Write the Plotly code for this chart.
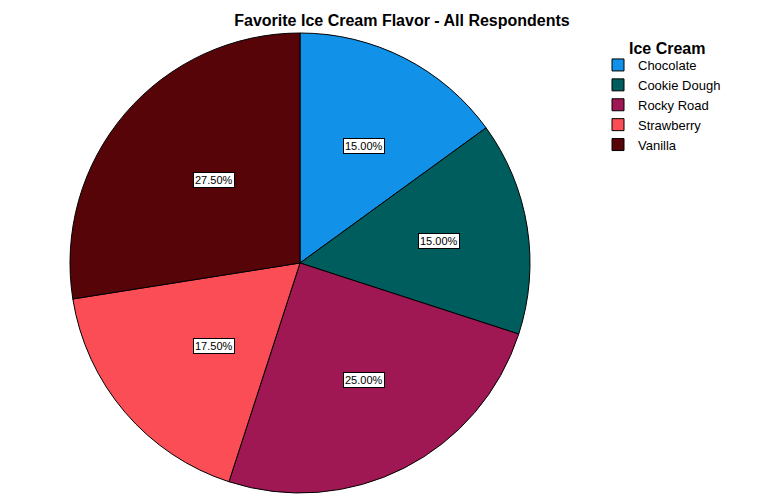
import numpy as np
import plotly.graph_objects as go

flavors = ['Chocolate', 'Cookie Dough', 'Rocky Road', 'Strawberry', 'Vanilla']
percents = [15.0, 15.0, 25.0, 17.5, 27.5]
colors = ['#1192E8', '#005D5D', '#9F1853', '#FA4D56', '#570408']

W, H = 765, 498
OFF = 8  # page body margin shifts everything by 8px
# pie box in pixels
px0, px1, py0, py1 = 70 - OFF, 530 - OFF, 33 - OFF, 493 - OFF
pie_cx, pie_cy, r = 300 - OFF, 263 - OFF, 230

fig = go.Figure(go.Pie(
    labels=flavors,
    values=percents,
    sort=False,
    direction='clockwise',
    rotation=0,
    marker=dict(colors=colors, line=dict(color='black', width=1)),
    textinfo='none',
    hoverinfo='label+percent',
    domain=dict(x=[px0 / W, px1 / W], y=[1 - py1 / H, 1 - py0 / H]),
))

# boxed percent labels at the middle angle of each slice
frac = np.cumsum(percents) / sum(percents)
mids = frac - np.array(percents) / sum(percents) / 2
for m, p in zip(mids, percents):
    ang = 2 * np.pi * m
    dx = 0.61 * r * np.sin(ang)
    dy = 0.61 * r * np.cos(ang)
    fig.add_annotation(
        x=(pie_cx + dx) / W, y=1 - (pie_cy - dy) / H, xref='paper', yref='paper',
        text='{:.2f}%'.format(p), showarrow=False,
        font=dict(family='Arial, Liberation Sans', size=11, color='black'),
        bgcolor='white', bordercolor='black', borderwidth=1, borderpad=1,
    )

fig.add_annotation(
    x=(627 - OFF) / W, y=1 - (48 - OFF) / H, xref='paper', yref='paper',
    xanchor='left', yanchor='middle', showarrow=False,
    text='<b>Ice Cream</b>',
    font=dict(family='Arial, Liberation Sans', size=16, color='black'),
)

fig.update_layout(
    width=W, height=H,
    margin=dict(l=0, r=0, t=0, b=0),
    paper_bgcolor='white',
    title=dict(text='<b>Favorite Ice Cream Flavor - All Respondents</b>',
               x=(402 - OFF) / W, xanchor='center', y=1 - (20 - OFF) / H, yanchor='middle',
               font=dict(family='Arial, Liberation Sans', size=16, color='black')),
    legend=dict(
        x=(598 - OFF) / W, y=1 - (50 - OFF) / H, xanchor='left', yanchor='top',
        font=dict(family='Arial, Liberation Sans', size=13, color='black'),
        tracegroupgap=0, itemwidth=30,
    ),
)

fig.write_html('out.html')
